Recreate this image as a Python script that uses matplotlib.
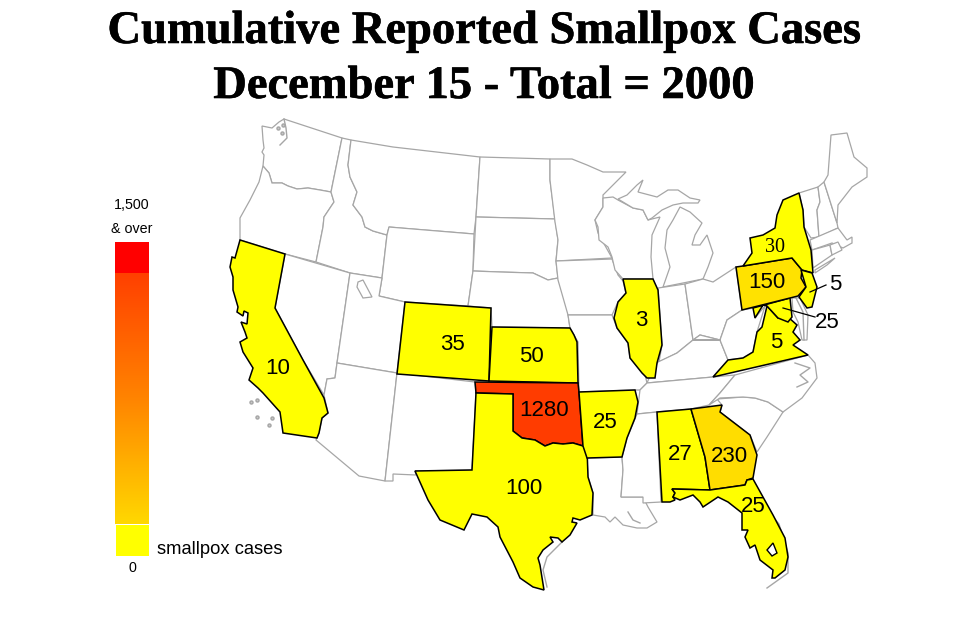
"""
plot.py

Cumulative reported smallpox cases : state map
"""
import matplotlib
matplotlib.use("Agg")
import numpy as np
import matplotlib.pyplot as plt
import matplotlib.patheffects as pe
from matplotlib.colors import LinearSegmentedColormap, Normalize
from matplotlib.patches import Polygon, Rectangle

#######################
## data
#######################
# state outlines (image pixels)
WA = [(262,126),(272,128),(279,122),(284,119),(342,138),(331,192),(320,190),(308,188),(297,189),(288,186),(282,183),(272,183),(269,173),(263,166),(264,155),(262,152),(264,148),(263,140)]
OR = [(263,166),(269,173),(272,183),(282,183),(288,186),(297,189),(308,188),(320,190),(331,192),(334,202),(324,217),(323,227),(316,262),(285,254),(240,240),(240,218),(250,200),(259,182)]
ID = [(342,138),(351,140),(348,165),(350,177),(357,192),(353,205),(362,217),(365,227),(373,231),(387,235),(382,278),(350,273),(316,262),(323,227),(324,217),(334,202),(331,192)]
MT = [(351,140),(393,147),(480,157),(476,217),(474,234),(400,228),(389,227),(387,235),(373,231),(365,227),(362,217),(353,205),(357,192),(350,177),(348,165)]
WY = [(389,227),(474,234),(473,271),(468,306),(405,302),(379,296),(382,278),(387,235)]
NV = [(285,254),(350,273),(337,363),(335,378),(327,379),(324,395),(303,360),(275,308)]
UT = [(350,273),(382,278),(379,296),(405,302),(397,373),(337,363)]
AZ = [(337,363),(397,373),(385,481),(359,476),(316,440),(319,433),(322,418),(328,413),(324,395),(327,379),(335,378)]
NM = [(397,373),(475,382),(476,393),(472,470),(415,471),(416,475),(393,474),(393,481),(385,481)]
ND = [(480,157),(550,159),(550,180),(555,219),(476,217)]
SD = [(476,217),(555,219),(558,240),(556,261),(558,278),(548,280),(533,273),(500,272),(473,271)]
NE = [(473,271),(500,272),(533,273),(548,280),(558,278),(567,307),(570,328),(492,327),(491,308),(468,306)]
MN = [(550,159),(572,159),(587,165),(603,172),(626,172),(603,195),(603,207),(595,220),(598,233),(612,258),(556,261),(558,240),(555,222),(550,180)]
IA = [(556,261),(612,259),(618,275),(623,281),(626,293),(618,302),(612,315),(568,315),(558,280)]
MO = [(568,315),(612,315),(617,328),(628,343),(630,358),(645,375),(647,383),(640,390),(635,390),(579,392),(578,342),(570,328)]
WI = [(603,198),(613,197),(618,200),(633,208),(643,210),(648,220),(660,217),(652,235),(651,257),(653,279),(623,279),(615,270),(612,257),(608,247),(599,240),(598,227),(595,220),(603,207)]
MI_UP = [(618,199),(627,195),(637,185),(643,180),(638,192),(657,197),(668,190),(678,190),(690,198),(700,200),(698,203),(683,203),(673,205),(662,210),(652,218),(648,220),(643,210),(633,208)]
MI_LP = [(663,287),(703,279),(708,267),(713,253),(707,235),(700,245),(692,245),(695,235),(702,223),(690,212),(680,207),(673,220),(667,230),(665,248),(670,267)]
IN = [(658,288),(685,284),(693,340),(677,353),(659,362),(662,345)]
OH = [(685,284),(703,279),(713,282),(736,267),(742,310),(727,320),(720,340),(700,335),(693,340)]
KY = [(647,383),(650,376),(658,362),(677,353),(693,340),(700,335),(720,340),(728,360),(713,377)]
TN = [(637,414),(640,390),(647,383),(713,377),(735,375),(720,393),(709,405),(691,409),(657,412)]
WV = [(693,340),(720,340),(727,320),(742,310),(754,308),(755,318),(765,306),(757,332),(753,352),(743,358),(728,360),(720,340)]
LA = [(587,458),(622,457),(623,470),(621,497),(643,497),(648,507),(657,522),(647,528),(637,528),(623,525),(615,517),(610,522),(605,517),(593,515),(593,493),(588,477)]
MS = [(637,414),(657,412),(661,502),(643,503),(643,497),(621,497),(623,470),(622,457),(627,438)]
SC = [(722,405),(717,399),(743,397),(755,398),(768,402),(783,412),(767,437),(757,452),(750,435),(720,412)]
NC = [(735,375),(808,355),(815,363),(817,378),(802,398),(783,412),(768,402),(755,398),(743,397),(720,398),(709,405),(720,393)]
VT = [(799,193),(818,187),(820,202),(817,210),(819,237),(811,238),(804,227),(803,210)]
NH = [(818,187),(824,182),(837,223),(838,228),(819,237),(817,210),(820,202)]
ME = [(824,182),(828,175),(831,135),(847,133),(854,157),(867,168),(867,177),(852,187),(838,205),(837,223)]
MA = [(810,240),(838,228),(847,240),(852,237),(852,243),(843,248),(832,243),(812,250)]
CT = [(812,250),(830,245),(832,255),(813,268)]
RI = [(830,245),(838,242),(842,250),(832,255)]
LI = [(815,270),(835,258),(827,265),(815,273)]
DE = [(792,298),(800,298),(808,315),(807,340),(802,340),(798,322),(793,312)]

CA = [(240,240),(285,254),(275,308),(303,360),(324,398),(328,413),(322,418),(319,433),(317,438),(283,433),(280,412),(263,393),(258,388),(249,380),(253,368),(243,352),(240,342),(247,338),(245,332),(241,322),(247,324),(248,313),(244,311),(243,316),(237,312),(238,307),(233,290),(233,277),(230,267),(232,257),(235,258)]
CO = [(405,302),(491,308),(489,381),(397,374)]
KS = [(492,327),(570,328),(574,335),(577,342),(578,383),(489,381)]
OK = [(475,382),(578,383),(579,392),(583,446),(573,443),(563,444),(553,443),(545,446),(535,440),(522,438),(513,431),(513,394),(476,393)]
TX = [(476,393),(513,394),(513,431),(522,438),(535,440),(545,446),(553,443),(563,444),(573,443),(583,446),(587,448),(588,477),(593,493),(592,515),(580,520),(573,518),(572,522),(577,523),(570,535),(562,542),(558,538),(550,537),(553,542),(543,550),(538,558),(540,565),(544,590),(533,587),(520,578),(513,562),(500,537),(498,527),(487,517),(472,514),(464,530),(440,520),(428,500),(415,471),(472,470)]
AR = [(579,392),(635,390),(638,402),(635,418),(627,438),(622,457),(587,458),(583,446)]
IL = [(623,279),(653,279),(658,290),(662,345),(657,363),(655,378),(647,378),(642,373),(630,358),(628,343),(617,328),(614,318),(618,302),(626,293)]
AL = [(657,412),(691,409),(705,457),(710,490),(672,489),(675,493),(673,497),(675,500),(670,502),(662,502)]
GA = [(691,409),(722,405),(720,412),(750,435),(757,455),(753,478),(747,480),(745,485),(710,490),(705,457)]
FL = [(672,489),(710,490),(745,485),(747,480),(753,479),(773,515),(785,538),(788,557),(785,570),(775,578),(772,578),(773,570),(760,560),(755,545),(750,548),(745,537),(748,530),(742,530),(742,513),(728,502),(718,497),(703,507),(700,502),(693,495),(680,500),(673,497),(675,493)]
VA = [(713,377),(808,355),(793,345),(800,340),(793,332),(797,325),(788,317),(778,318),(767,306),(762,327),(757,332),(753,352),(743,358),(728,360)]
MD = [(753,308),(790,298),(792,317),(788,322),(778,318),(767,306),(763,305),(755,318)]
PA = [(736,267),(743,266),(792,258),(802,270),(801,278),(806,287),(798,296),(742,310)]
NY = [(743,266),(752,253),(750,238),(763,235),(775,228),(777,215),(783,200),(799,193),(803,210),(804,227),(811,250),(813,273),(802,270),(792,258)]
NJ = [(801,270),(812,273),(817,287),(812,307),(807,308),(799,297),(806,287)]

# lakes, islands and other thin coast lines
salt_lake = [(358,282),(363,280),(372,297),(363,298),(357,287)]
okeechobee = [(767,550),(773,543),(777,553),(772,556)]
islands = [(251,402),(257,400),(257,417),(272,418),(269,425),(278,128),(283,125),(282,133)]
puget = [(284,119),(286,128),(287,138),(280,145)]
tx_barrier = [(562,542),(547,557),(543,570),(547,587)]
fl_barrier = [(773,517),(779,524),(788,553),(788,573),(767,588)]
la_delta = [(628,512),(633,520),(640,523)]
nc_sound = [(795,363),(810,368),(800,375),(808,382),(797,387)]
de_line = [(796,298),(803,312),(804,340)]

# reported cases by state
case_states = ["CA", "CO", "KS", "OK", "TX", "AR", "IL", "AL", "GA", "FL", "VA", "MD", "PA", "NY", "NJ"]
case_values = [10, 35, 50, 1280, 100, 25, 3, 27, 230, 25, 5, 25, 150, 30, 5]
case_outlines = [CA, CO, KS, OK, TX, AR, IL, AL, GA, FL, VA, MD, PA, NY, NJ]

blank_outlines = [WA, OR, ID, MT, WY, NV, UT, AZ, NM, ND, SD, NE, MN, IA, MO, WI, MI_UP, MI_LP,
                  IN, OH, KY, TN, WV, LA, MS, SC, NC, VT, NH, ME, MA, CT, RI, LI, DE]
thin_lines = [puget, tx_barrier, fl_barrier, la_delta, nc_sound, de_line]

title_lines = ["Cumulative Reported Smallpox Cases", "December 15 - Total = 2000"]
legend_top = ["1,500", "& over"]
legend_bottom = "0"
legend_name = "smallpox cases"

#######################
## plot
#######################
fig = plt.figure(figsize=(9.7, 6.42), dpi=100)
ax = fig.add_axes([0, 0, 1, 1])
ax.set_xlim(0, 970)
ax.set_ylim(642, 0)
ax.axis("off")

grey = "#a6a6a6"
# 230 cases sits near the yellow end, 1280 near the red end
shade = LinearSegmentedColormap.from_list("cases", [(0, "#ffe400"), (0.11, "#ffdd00"), (1, "#ff3c00")])
norm = Normalize(100, 1280)

def case_color(n):
    # up to 100 cases stay plain yellow
    return "#ffff00" if n <= 100 else shade(norm(n))

# 1. states without cases
for outline in blank_outlines:
    ax.add_patch(Polygon(outline, closed=True, fc="white", ec=grey, lw=0.9, zorder=1))
ax.add_patch(Polygon(salt_lake, closed=True, fc="white", ec=grey, lw=0.9, zorder=1))
for line in thin_lines:
    ax.plot(*zip(*line), c=grey, lw=1.0, zorder=1)
ax.plot(*zip(*islands), ls="", marker="o", ms=2.2, mfc="#c8c8c8", mec=grey, zorder=1)

# 2. states with cases
for name, n, outline in zip(case_states, case_values, case_outlines):
    ax.add_patch(Polygon(outline, closed=True, fc=case_color(n), ec="black", lw=1.1, zorder=2))
ax.add_patch(Polygon(okeechobee, closed=True, fc="white", ec="black", lw=1.0, zorder=3))

# 3. numbers on the map
label_pos = {"CA": (278, 369), "CO": (452, 344), "KS": (531, 356), "OK": (544, 411), "TX": (524, 488),
             "AR": (605, 422), "IL": (641, 321), "AL": (680, 455), "GA": (729, 457), "FL": (753, 507),
             "VA": (776, 343), "MD": (827, 322), "PA": (767, 283), "NJ": (835, 285)}
for name, n in zip(case_states, case_values):
    if name == "NY":
        ax.text(775, 248, str(n), ha="center", va="center", fontsize=14.5,
                family="Liberation Serif", color="black", zorder=4)
    else:
        x, y = label_pos[name]
        ax.text(x, y, str(n), ha="center", va="center", fontsize=16,
                family="Liberation Sans", color="black", zorder=4)
ax.plot([810, 826], [292, 285], c="black", lw=0.9, zorder=4)
ax.plot([783, 815], [308, 317], c="black", lw=0.9, zorder=4)

# 4. colour legend
gradient = LinearSegmentedColormap.from_list("legend", ["#ff4000", "#ff8400", "#ffd800"])
ax.imshow(np.linspace(0, 1, 256).reshape(-1, 1), cmap=gradient, aspect="auto",
          extent=(115, 149, 524, 273), zorder=2)
ax.set_xlim(0, 970)
ax.set_ylim(642, 0)
ax.add_patch(Rectangle((115, 242), 34, 31, fc="#ff0000", ec="none", zorder=2))
ax.add_patch(Rectangle((116, 525), 33, 31, fc="#ffff00", ec="none", zorder=2))
ax.text(132, 205, legend_top[0], ha="center", va="center", fontsize=10.3, family="Liberation Sans")
ax.text(132, 229, legend_top[1], ha="center", va="center", fontsize=10.3, family="Liberation Sans")
ax.text(132, 568, legend_bottom, ha="center", va="center", fontsize=10.3, family="Liberation Sans")
ax.text(157, 550, legend_name, ha="left", va="center", fontsize=13.2, family="Liberation Sans")

# 5. title
heavy = [pe.withStroke(linewidth=0.4, foreground="black")]
ax.text(484, 43, title_lines[0], ha="center", va="baseline", fontsize=33.5, fontweight="bold",
        family="Liberation Serif", path_effects=heavy)
ax.text(484, 98, title_lines[1], ha="center", va="baseline", fontsize=33.5, fontweight="bold",
        family="Liberation Serif", path_effects=heavy)

fig.savefig("out.png", dpi=100, facecolor="white")
